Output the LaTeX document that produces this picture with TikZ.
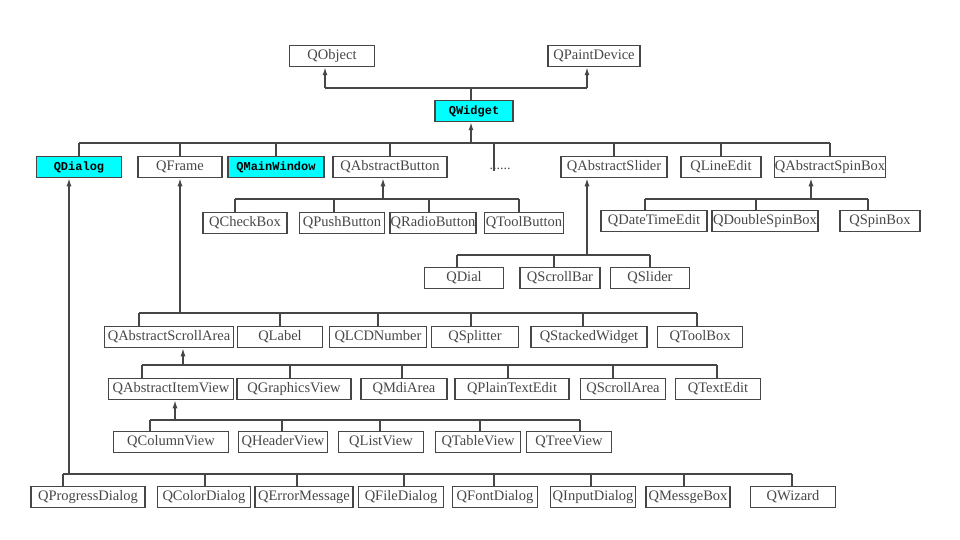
\documentclass[tikz,border=0pt]{standalone}
\usepackage{fontspec}
\setmainfont{Liberation Serif}
\newfontfamily\monob{Liberation Mono}
\usetikzlibrary{arrows.meta}
\definecolor{qcyan}{RGB}{0,255,255}
\definecolor{qline}{RGB}{70,70,70}
\begin{document}
\begin{tikzpicture}[x=1pt,y=-1pt,
  b/.style={draw=qline,line width=1.5pt,fill=white,minimum height=21pt,inner sep=0.5pt,text=black!72,font=\fontsize{14.5}{15}\selectfont},
  c/.style={b,fill=qcyan,text=black,font=\monob\bfseries\fontsize{12}{13}\selectfont},
  ln/.style={draw=qline,line width=1.4pt},
  ar/.style={ln,-{Latex[length=8pt,width=5pt]}}]
\useasboundingbox[fill=white] (0,0) rectangle (960,540);
% nodes
\node[b,minimum width=85pt] (obj) at (332,56) {QObject};
\node[b,minimum width=92pt] (pd) at (594,56) {QPaintDevice};
\node[c,minimum width=78pt] (w) at (474,111) {QWidget};
\node[c,minimum width=85pt] (dlg) at (79,167) {QDialog};
\node[b,minimum width=84pt] (frm) at (180,167) {QFrame};
\node[c,minimum width=96pt] (mw) at (276,167) {QMainWindow};
\node[b,minimum width=114pt] (ab) at (390,167) {QAbstractButton};
\node[text=black!70,font=\fontsize{14}{15}\selectfont,inner sep=0pt] (dots) at (500,169) {......};
\node[b,minimum width=106pt] (asl) at (614,167) {QAbstractSlider};
\node[b,minimum width=80pt] (le) at (721,167) {QLineEdit};
\node[b,minimum width=111pt] (asb) at (830,167) {QAbstractSpinBox};
\node[b,minimum width=84pt] (cb) at (245,223) {QCheckBox};
\node[b,minimum width=85pt] (pb) at (342,223) {QPushButton};
\node[b,minimum width=84pt] (rb) at (433,223) {QRadioButton};
\node[b,minimum width=79pt] (tb) at (524,223) {QToolButton};
\node[b,minimum width=79pt] (dial) at (464,278) {QDial};
\node[b,minimum width=80pt] (sb) at (560,278) {QScrollBar};
\node[b,minimum width=79pt] (sl) at (650,278) {QSlider};
\node[b,minimum width=106pt] (dte) at (654,221) {QDateTimeEdit};
\node[b,minimum width=106pt] (dsb) at (765,221) {QDoubleSpinBox};
\node[b,minimum width=80pt] (spb) at (880,221) {QSpinBox};
\node[b,minimum width=129pt] (asa) at (169,337) {QAbstractScrollArea};
\node[b,minimum width=85pt] (lab) at (280,337) {QLabel};
\node[b,minimum width=97pt] (lcd) at (378,337) {QLCDNumber};
\node[b,minimum width=87pt] (spl) at (475,337) {QSplitter};
\node[b,minimum width=116pt] (stw) at (589,337) {QStackedWidget};
\node[b,minimum width=85pt] (tbx) at (700,337) {QToolBox};
\node[b,minimum width=125pt] (aiv) at (171,389) {QAbstractItemView};
\node[b,minimum width=114pt] (gv) at (294,389) {QGraphicsView};
\node[b,minimum width=86pt] (mdi) at (404,389) {QMdiArea};
\node[b,minimum width=114pt] (pte) at (512,389) {QPlainTextEdit};
\node[b,minimum width=85pt] (sa) at (623,389) {QScrollArea};
\node[b,minimum width=85pt] (te) at (718,389) {QTextEdit};
\node[b,minimum width=115pt] (cv) at (171,442) {QColumnView};
\node[b,minimum width=89pt] (hv) at (283,442) {QHeaderView};
\node[b,minimum width=85pt] (lv) at (381,442) {QListView};
\node[b,minimum width=85pt] (tv) at (478,442) {QTableView};
\node[b,minimum width=85pt] (trv) at (569,442) {QTreeView};
\node[b,minimum width=114pt] (prd) at (88,497) {QProgressDialog};
\node[b,minimum width=93pt] (cd) at (204,497) {QColorDialog};
\node[b,minimum width=98pt] (em) at (304,497) {QErrorMessage};
\node[b,minimum width=85pt] (fd) at (401,497) {QFileDialog};
\node[b,minimum width=85pt] (fod) at (495,497) {QFontDialog};
\node[b,minimum width=85pt] (id) at (593,497) {QInputDialog};
\node[b,minimum width=84pt] (mb) at (688,497) {QMessgeBox};
\node[b,minimum width=85pt] (wz) at (793,497) {QWizard};
% bus coordinates
\coordinate (b0) at (0,88);
\coordinate (b1) at (0,143);
\coordinate (b2) at (0,199);
\coordinate (b3) at (0,255);
\coordinate (b4) at (0,199);
\coordinate (b5) at (0,313);
\coordinate (b6) at (0,365);
\coordinate (b7) at (0,420);
\coordinate (b8) at (0,474);
% top
\draw[ln] ([xshift=-7pt]obj.south |- b0) -- ([xshift=-7pt]pd.south |- b0);
\draw[ar] ([xshift=-7pt]obj.south |- b0) -- ([xshift=-7pt]obj.south);
\draw[ar] ([xshift=-7pt]pd.south |- b0) -- ([xshift=-7pt]pd.south);
\draw[ln] ([xshift=-3pt]w.north) -- ([xshift=-3pt]w.north |- b0);
% widget children
\draw[ar] ([xshift=-3pt]w.south |- b1) -- ([xshift=-3pt]w.south);
\draw[ln] (dlg.north |- b1) -- (asb.north |- b1);
\foreach \n in {dlg,frm,mw,ab,asl,le,asb} \draw[ln] (\n.north) -- (\n.north |- b1);
\draw[ln] ([xshift=-6pt,yshift=-3pt]dots.north) -- ([xshift=-6pt]dots.north |- b1);
% buttons
\draw[ar] ([xshift=-7pt]ab.south |- b2) -- ([xshift=-7pt]ab.south);
\draw[ln] ([xshift=-10pt]cb.north |- b2) -- ([xshift=-5pt]tb.north |- b2);
\foreach \n/\d in {cb/-10,pb/-8,rb/-4,tb/-5} \draw[ln] ([xshift=\d pt]\n.north) -- ([xshift=\d pt]\n.north |- b2);
% slider
\draw[ar] ([xshift=-27pt]asl.south |- b3) -- ([xshift=-27pt]asl.south);
\draw[ln] ([xshift=-7pt]dial.north |- b3) -- (sl.north |- b3);
\foreach \n/\d in {dial/-7,sb/-6,sl/0} \draw[ln] ([xshift=\d pt]\n.north) -- ([xshift=\d pt]\n.north |- b3);
% spinbox
\draw[ar] ([xshift=-19pt]asb.south |- b4) -- ([xshift=-19pt]asb.south);
\draw[ln] ([xshift=-9pt]dte.north |- b4) -- ([xshift=-12pt]spb.north |- b4);
\foreach \n/\d in {dte/-9,dsb/-9,spb/-12} \draw[ln] ([xshift=\d pt]\n.north) -- ([xshift=\d pt]\n.north |- b4);
% frame
\draw[ar] (frm.south |- b5) -- (frm.south);
\draw[ln] ([xshift=-30pt]asa.north |- b5) -- ([xshift=-3pt]tbx.north |- b5);
\foreach \n/\d in {asa/-30,lab/0,lcd/0,spl/-4,stw/-6,tbx/-3} \draw[ln] ([xshift=\d pt]\n.north) -- ([xshift=\d pt]\n.north |- b5);
% scroll area
\draw[ar] ([xshift=14pt]asa.south |- b6) -- ([xshift=14pt]asa.south);
\draw[ln] ([xshift=-29pt]aiv.north |- b6) -- ([xshift=-1pt]te.north |- b6);
\foreach \n/\d in {aiv/-29,gv/-4,mdi/-2,pte/-4,sa/-10,te/-1} \draw[ln] ([xshift=\d pt]\n.north) -- ([xshift=\d pt]\n.north |- b6);
% item view
\draw[ar] ([xshift=4pt]aiv.south |- b7) -- ([xshift=4pt]aiv.south);
\draw[ln] ([xshift=-21pt]cv.north |- b7) -- ([xshift=11pt]trv.north |- b7);
\foreach \n/\d in {cv/-21,hv/-1,lv/-1,tv/2,trv/11} \draw[ln] ([xshift=\d pt]\n.north) -- ([xshift=\d pt]\n.north |- b7);
% dialogs
\draw[ar] ([xshift=-10pt]dlg.south |- b8) -- ([xshift=-10pt]dlg.south);
\draw[ln] ([xshift=-25pt]prd.north |- b8) -- ([xshift=-1pt]wz.north |- b8);
\foreach \n/\d in {prd/-25,cd/1,em/-7,fd/3,fod/-1,id/-2,mb/-4,wz/-1} \draw[ln] ([xshift=\d pt]\n.north) -- ([xshift=\d pt]\n.north |- b8);
\end{tikzpicture}
\end{document}
